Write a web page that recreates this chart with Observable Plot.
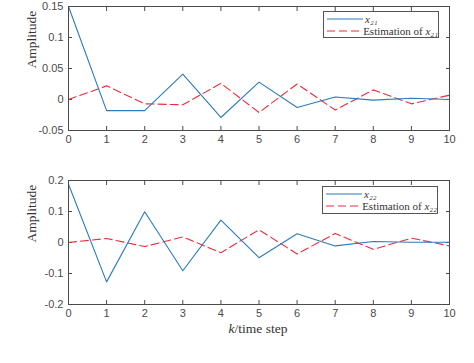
<!DOCTYPE html>
<html><head><meta charset="utf-8">
<script src="https://cdn.jsdelivr.net/npm/d3@7"></script>
<script src="https://cdn.jsdelivr.net/npm/@observablehq/plot@0.6"></script>
<style>
body{margin:0;background:#fff;}
#wrap{position:relative;width:474px;height:363px;overflow:hidden;background:#fff;}
.panel{position:absolute;left:0;}
.legend{position:absolute;box-sizing:border-box;border:1px solid #555;background:#fff;font-family:"Liberation Serif",serif;font-size:11px;color:#333;padding:1px 0 0 3px;}
.legend .row{display:flex;align-items:center;height:12px;white-space:nowrap;line-height:12px;}
.legend svg{margin-right:2px;}
.xlabel{position:absolute;font-family:"Liberation Serif",serif;font-size:13.5px;color:#333;white-space:nowrap;transform:translateX(-50%);}
</style>
</head><body>
<div id="wrap"></div>
<script>
const k = [0, 1, 2, 3, 4, 5, 6, 7, 8, 9, 10];
const x21 = [0.15, -0.018, -0.018, 0.041, -0.029, 0.028, -0.013, 0.004, -0.001, 0.002, 0.0];
const est21 = [0.0, 0.022, -0.007, -0.0085, 0.026, -0.021, 0.025, -0.017, 0.0155, -0.007, 0.007];
const x22 = [0.188, -0.127, 0.099, -0.091, 0.072, -0.049, 0.028, -0.011, 0.003, 0.001, 0.001];
const est22 = [0.0, 0.013, -0.013, 0.018, -0.033, 0.041, -0.037, 0.029, -0.022, 0.014, -0.011];
const xTicks = [0, 1, 2, 3, 4, 5, 6, 7, 8, 9, 10];
const yTicks21 = [-0.05, 0, 0.05, 0.1, 0.15];
const yTicks22 = [-0.2, -0.1, 0, 0.1, 0.2];
const legend21 = ["x₂₁", "Estimation of x₂₁"];
const legend22 = ["x₂₂", "Estimation of x₂₂"];

const BLUE = "#2b7bba";
const RED = "#ee2c3c";
const AXIS = "#4a4a4a";
const wrap = document.getElementById("wrap");

function panel({top, height, marginTop, marginBottom, yDomain, yTicks, truth, est}) {
  const rowsA = k.map((kk, i) => ({k: kk, v: truth[i]}));
  const rowsB = k.map((kk, i) => ({k: kk, v: est[i]}));
  const chart = Plot.plot({
    width: 474, height,
    marginLeft: 68, marginRight: 25, marginTop, marginBottom,
    style: {fontFamily: "'Liberation Sans', Arial, sans-serif", fontSize: "11px", color: AXIS, background: "transparent"},
    x: {domain: [0, 10], ticks: xTicks},
    y: {domain: yDomain, ticks: yTicks},
    marks: [
      Plot.axisX(xTicks, {anchor: "bottom", tickSize: 0, tickPadding: 5, tickFormat: d => String(d), label: null, fill: AXIS}),
      Plot.axisX(xTicks, {anchor: "bottom", tickSize: -4, tickFormat: () => "", label: null, stroke: AXIS}),
      Plot.axisX(xTicks, {anchor: "top", tickSize: -4, tickFormat: () => "", label: null, stroke: AXIS}),
      Plot.axisY(yTicks, {anchor: "left", tickSize: 0, tickPadding: 5, tickFormat: d => String(d), label: null, fill: AXIS}),
      Plot.axisY(yTicks, {anchor: "left", tickSize: -4, tickFormat: () => "", label: null, stroke: AXIS}),
      Plot.axisY(yTicks, {anchor: "right", tickSize: -4, tickFormat: () => "", label: null, stroke: AXIS}),
      Plot.line(rowsB, {x: "k", y: "v", stroke: RED, strokeWidth: 1.1, strokeDasharray: "8,4"}),
      Plot.line(rowsA, {x: "k", y: "v", stroke: BLUE, strokeWidth: 1.1}),
      Plot.frame({stroke: AXIS, strokeWidth: 1}),
      Plot.text(["Amplitude"], {frameAnchor: "left", dx: -37, rotate: -90, fontFamily: "'Liberation Serif', serif", fontSize: 13.5, fill: "#333"})
    ]
  });
  chart.classList.add("panel");
  chart.style.top = top + "px";
  wrap.appendChild(chart);
}

function legend({left, top, width, height, labels}) {
  const d = document.createElement("div");
  d.className = "legend";
  Object.assign(d.style, {left: left + "px", top: top + "px", width: width + "px", height: height + "px"});
  const line = (dash, color) => `<svg width="36" height="6"><line x1="0" x2="36" y1="3" y2="3" stroke="${color}" stroke-width="1.1" ${dash ? 'stroke-dasharray="8,4"' : ''}/></svg>`;
  const fmt = s => s.replace(/x([₀-₉]+)$/, "<i>x$1</i>");
  d.innerHTML = `<div class="row">${line(false, BLUE)}<span>${fmt(labels[0])}</span></div>` +
                `<div class="row">${line(true, RED)}<span>${fmt(labels[1])}</span></div>`;
  wrap.appendChild(d);
}

panel({top: 0, height: 150, marginTop: 6, marginBottom: 20, yDomain: [-0.05, 0.15], yTicks: yTicks21, truth: x21, est: est21});
panel({top: 170, height: 160, marginTop: 10, marginBottom: 26, yDomain: [-0.2, 0.2], yTicks: yTicks22, truth: x22, est: est22});
legend({left: 323, top: 11, width: 116, height: 27, labels: legend21});
legend({left: 322, top: 186, width: 116, height: 28, labels: legend22});

const xl = document.createElement("div");
xl.className = "xlabel";
xl.style.left = "258px";
xl.style.top = "321px";
xl.innerHTML = "<i>k</i>/time step";
wrap.appendChild(xl);
</script>
</body></html>
